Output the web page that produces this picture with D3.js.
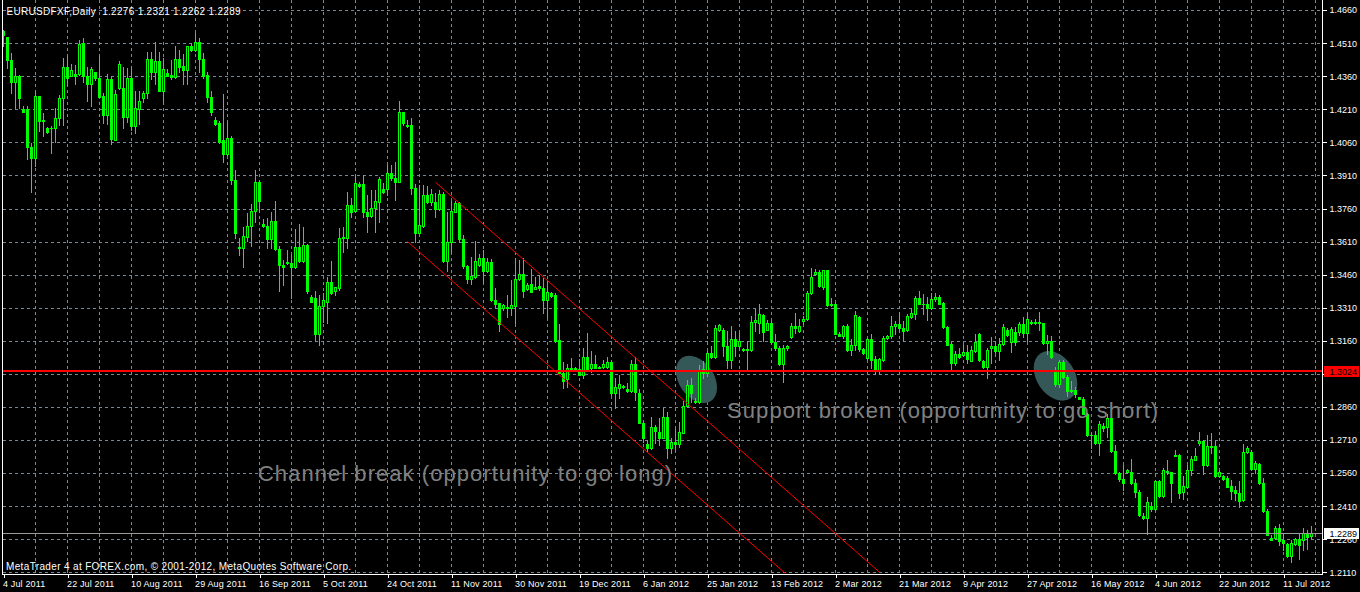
<!DOCTYPE html>
<html><head><meta charset="utf-8">
<script src="https://cdn.jsdelivr.net/npm/d3@7"></script>
<style>html,body{margin:0;padding:0;background:#000;overflow:hidden}svg{display:block}</style>
</head><body>
<svg id="chart" width="1360" height="592"></svg>
<script>
// ---------------- DATA ----------------
const symbolTitle = "EURUSDFXF,Daily";
const lastQuote = [1.2276, 1.2321, 1.2262, 1.2289]; // O H L C of last bar
const copyright = "MetaTrader 4 at FOREX.com, \u00A9 2001-2012, MetaQuotes Software Corp.";

const openP = [
1.4566,1.4536,1.4434,1.4333,1.4363,1.4212,1.4211,1.4038,1.3988,1.4271,
1.4161,1.4124,1.4124,1.4124,1.4170,1.4261,1.4404,1.4363,1.4371,1.4371,
1.4510,1.4359,1.4324,1.4378,1.4351,1.4271,1.4182,1.4348,1.4072,1.4306,
1.4306,1.4173,1.4351,1.4134,1.4211,1.4261,1.4283,1.4439,1.4377,1.4430,
1.4295,1.4374,1.4366,1.4356,1.4439,1.4406,1.4388,1.4496,1.4478,1.4515,
1.4439,1.4366,1.4268,1.4162,1.4147,1.4072,1.4006,1.4079,1.3890,1.3586,
1.3580,1.3633,1.3681,1.3749,1.3881,1.3690,1.3680,1.3621,1.3704,1.3577,
1.3505,1.3511,1.3512,1.3494,1.3586,1.3520,1.3595,1.3359,1.3353,1.3190,
1.3316,1.3338,1.3427,1.3384,1.3398,1.3625,1.3628,1.3776,1.3750,1.3870,
1.3870,1.3746,1.3728,1.3764,1.3788,1.3849,1.3847,1.3920,1.3897,1.3882,
1.4196,1.4139,1.4139,1.3855,1.3651,1.3681,1.3821,1.3788,1.3788,1.3756,
1.3824,1.3522,1.3607,1.3746,1.3784,1.3620,1.3501,1.3439,1.3451,1.3504,
1.3534,1.3477,1.3516,1.3345,1.3330,1.3307,1.3315,1.3310,1.3318,1.3439,
1.3461,1.3395,1.3416,1.3395,1.3409,1.3401,1.3345,1.3375,1.3368,1.3164,
1.3016,1.2987,1.3031,1.3038,1.3032,1.3005,1.3085,1.3035,1.3053,1.3038,
1.3041,1.3043,1.3065,1.2922,1.2947,1.2955,1.2941,1.2932,1.3053,1.2925,
1.2789,1.2692,1.2675,1.2768,1.2748,1.2718,1.2816,1.2675,1.2700,1.2690,
1.2743,1.2863,1.2958,1.2888,1.2882,1.3031,1.3013,1.3105,1.3085,1.3207,
1.3207,1.3135,1.3074,1.3169,1.3135,1.3123,1.3117,1.3117,1.3247,1.3242,
1.3275,1.3211,1.3242,1.3155,1.3128,1.3054,1.3128,1.3176,1.3227,1.3204,
1.3250,1.3257,1.3375,1.3463,1.3471,1.3405,1.3481,1.3323,1.3329,1.3193,
1.3181,1.3227,1.3120,1.3140,1.3269,1.3123,1.3082,1.3170,1.3077,1.3028,
1.3074,1.3173,1.3181,1.3227,1.3237,1.3219,1.3207,1.3269,1.3283,1.3356,
1.3329,1.3329,1.3311,1.3349,1.3359,1.3333,1.3222,1.3146,1.3059,1.3102,
1.3097,1.3109,1.3070,1.3112,1.3192,1.3067,1.3041,1.3127,1.3136,1.3116,
1.3144,1.3211,1.3154,1.3200,1.3200,1.3234,1.3196,1.3246,1.3243,1.3246,
1.3243,1.3150,1.3159,1.3017,1.2964,1.3063,1.2994,1.2933,1.2938,1.2903,
1.2898,1.2830,1.2735,1.2735,1.2697,1.2773,1.2769,1.2811,1.2659,1.2560,
1.2532,1.2563,1.2564,1.2517,1.2476,1.2366,1.2358,1.2412,1.2395,1.2525,
1.2458,1.2570,1.2564,1.2639,1.2644,1.2476,1.2496,1.2572,1.2621,1.2697,
1.2705,1.2595,1.2682,1.2682,1.2545,1.2545,1.2537,1.2502,1.2484,1.2468,
1.2438,1.2654,1.2656,1.2578,1.2602,1.2514,1.2389,1.2267,1.2267,1.2313,
1.2258,1.2240,1.2182,1.2240,1.2262,1.2258,1.2290,1.2276];

const highP = [
1.4570,1.4536,1.4465,1.4397,1.4366,1.4226,1.4226,1.4056,1.4291,1.4271,
1.4192,1.4132,1.4135,1.4215,1.4276,1.4442,1.4450,1.4415,1.4409,1.4525,
1.4533,1.4404,1.4401,1.4381,1.4450,1.4286,1.4371,1.4359,1.4298,1.4430,
1.4401,1.4397,1.4404,1.4291,1.4291,1.4291,1.4472,1.4469,1.4515,1.4472,
1.4442,1.4394,1.4434,1.4499,1.4480,1.4460,1.4499,1.4510,1.4555,1.4533,
1.4465,1.4377,1.4291,1.4173,1.4158,1.4280,1.4152,1.4089,1.3935,1.3625,
1.3678,1.3739,1.3780,1.3935,1.3883,1.3713,1.3716,1.3746,1.3792,1.3592,
1.3527,1.3571,1.3550,1.3668,1.3689,1.3678,1.3598,1.3368,1.3384,1.3368,
1.3376,1.3449,1.3523,1.3406,1.3673,1.3678,1.3837,1.3806,1.3912,1.3879,
1.3912,1.3821,1.3844,1.3844,1.3905,1.3874,1.3958,1.3958,1.3973,1.4248,
1.4199,1.4162,1.4169,1.3870,1.3867,1.3867,1.3864,1.3849,1.3829,1.3844,
1.3837,1.3746,1.3794,1.3794,1.3791,1.3640,1.3504,1.3539,1.3613,1.3552,
1.3572,1.3534,1.3530,1.3401,1.3330,1.3325,1.3368,1.3436,1.3534,1.3527,
1.3534,1.3421,1.3486,1.3451,1.3459,1.3446,1.3436,1.3383,1.3375,1.3235,
1.3065,1.3053,1.3081,1.3043,1.3078,1.3129,1.3194,1.3114,1.3096,1.3045,
1.3073,1.3088,1.3068,1.2993,1.3005,1.2960,1.2967,1.3073,1.3085,1.2941,
1.2796,1.2710,1.2816,1.2778,1.2808,1.2854,1.2838,1.2720,1.2760,1.2790,
1.2887,1.2980,1.2990,1.2899,1.3051,1.3067,1.3112,1.3135,1.3231,1.3234,
1.3216,1.3204,1.3227,1.3204,1.3196,1.3128,1.3158,1.3272,1.3303,1.3326,
1.3280,1.3253,1.3250,1.3189,1.3135,1.3143,1.3143,1.3242,1.3288,1.3257,
1.3272,1.3384,1.3491,1.3486,1.3481,1.3483,1.3481,1.3356,1.3333,1.3199,
1.3231,1.3234,1.3166,1.3295,1.3272,1.3128,1.3173,1.3192,1.3092,1.3082,
1.3181,1.3186,1.3272,1.3250,1.3292,1.3250,1.3280,1.3308,1.3364,1.3387,
1.3372,1.3359,1.3375,1.3379,1.3369,1.3338,1.3227,1.3155,1.3112,1.3128,
1.3143,1.3140,1.3135,1.3189,1.3196,1.3074,1.3128,1.3177,1.3154,1.3173,
1.3238,1.3219,1.3223,1.3223,1.3246,1.3269,1.3284,1.3254,1.3261,1.3289,
1.3243,1.3185,1.3182,1.3040,1.3071,1.3071,1.3005,1.2979,1.2949,1.2906,
1.2907,1.2834,1.2743,1.2750,1.2796,1.2785,1.2827,1.2819,1.2689,1.2563,
1.2598,1.2578,1.2624,1.2534,1.2484,1.2377,1.2453,1.2430,1.2529,1.2529,
1.2583,1.2621,1.2567,1.2666,1.2648,1.2545,1.2598,1.2636,1.2674,1.2746,
1.2712,1.2731,1.2740,1.2705,1.2575,1.2552,1.2545,1.2529,1.2502,1.2522,
1.2694,1.2682,1.2663,1.2613,1.2605,1.2537,1.2395,1.2278,1.2319,1.2331,
1.2285,1.2243,1.2256,1.2267,1.2285,1.2313,1.2301,1.2321];

const lowP = [
1.4495,1.4397,1.4283,1.4218,1.4215,1.4197,1.3984,1.3834,1.3951,1.4112,
1.4087,1.4102,1.4011,1.4064,1.4140,1.4140,1.4321,1.4359,1.4324,1.4366,
1.4336,1.4248,1.4227,1.4344,1.4264,1.4147,1.4143,1.4052,1.4072,1.4303,
1.4127,1.4152,1.4117,1.4102,1.4144,1.4245,1.4261,1.4348,1.4324,1.4291,
1.4248,1.4359,1.4348,1.4351,1.4381,1.4327,1.4327,1.4475,1.4475,1.4381,
1.4351,1.4242,1.4185,1.4140,1.4056,1.3969,1.4003,1.3870,1.3625,1.3550,
1.3497,1.3613,1.3588,1.3701,1.3746,1.3678,1.3583,1.3580,1.3573,1.3384,
1.3414,1.3508,1.3353,1.3492,1.3517,1.3517,1.3379,1.3335,1.3160,1.3142,
1.3247,1.3240,1.3371,1.3368,1.3390,1.3564,1.3580,1.3723,1.3746,1.3859,
1.3723,1.3652,1.3723,1.3655,1.3700,1.3829,1.3821,1.3889,1.3799,1.3879,
1.4139,1.4131,1.3824,1.3610,1.3648,1.3675,1.3784,1.3776,1.3723,1.3753,
1.3519,1.3477,1.3564,1.3743,1.3610,1.3489,1.3424,1.3416,1.3443,1.3501,
1.3428,1.3471,1.3341,1.3315,1.3205,1.3300,1.3270,1.3277,1.3239,1.3436,
1.3360,1.3390,1.3380,1.3394,1.3390,1.3285,1.3270,1.3360,1.3156,1.3013,
1.2944,1.2952,1.3028,1.3028,1.3005,1.2993,1.3028,1.3020,1.3035,1.3036,
1.3035,1.3038,1.2914,1.2854,1.2902,1.2947,1.2929,1.2929,1.2892,1.2786,
1.2703,1.2660,1.2669,1.2695,1.2687,1.2718,1.2628,1.2650,1.2670,1.2680,
1.2740,1.2860,1.2884,1.2876,1.2876,1.2990,1.3000,1.3082,1.3082,1.3204,
1.3089,1.3036,1.3036,1.3089,1.3128,1.3112,1.3028,1.3112,1.3204,1.3196,
1.3158,1.3207,1.3150,1.3120,1.3051,1.2972,1.3120,1.3173,1.3196,1.3201,
1.3237,1.3253,1.3372,1.3460,1.3402,1.3394,1.3318,1.3318,1.3189,1.3181,
1.3173,1.3115,1.3097,1.3120,1.3112,1.3100,1.3079,1.3036,1.3009,1.3009,
1.3067,1.3170,1.3173,1.3189,1.3204,1.3158,1.3204,1.3265,1.3257,1.3326,
1.3280,1.3253,1.3303,1.3341,1.3326,1.3219,1.3140,1.3028,1.3051,1.3082,
1.3089,1.3059,1.3067,1.3109,1.3070,1.3036,1.2990,1.3060,1.3106,1.3071,
1.3139,1.3182,1.3109,1.3139,1.3185,1.3177,1.3158,1.3238,1.3238,1.3208,
1.3147,1.3101,1.3081,1.2956,1.2949,1.2990,1.2910,1.2929,1.2907,1.2895,
1.2827,1.2727,1.2674,1.2694,1.2644,1.2750,1.2724,1.2654,1.2555,1.2522,
1.2484,1.2560,1.2511,1.2453,1.2365,1.2354,1.2285,1.2389,1.2392,1.2453,
1.2453,1.2557,1.2430,1.2636,1.2445,1.2441,1.2491,1.2552,1.2618,1.2689,
1.2557,1.2590,1.2651,1.2541,1.2541,1.2529,1.2496,1.2441,1.2438,1.2404,
1.2433,1.2651,1.2575,1.2560,1.2511,1.2384,1.2278,1.2256,1.2262,1.2232,
1.2209,1.2179,1.2156,1.2236,1.2171,1.2212,1.2217,1.2262];

const closeP = [
1.4545,1.4434,1.4333,1.4359,1.4261,1.4200,1.4038,1.3988,1.4271,1.4159,
1.4155,1.4105,1.4127,1.4170,1.4261,1.4404,1.4354,1.4388,1.4363,1.4505,
1.4359,1.4324,1.4392,1.4351,1.4268,1.4182,1.4348,1.4075,1.4280,1.4415,
1.4173,1.4351,1.4134,1.4215,1.4248,1.4283,1.4439,1.4377,1.4430,1.4291,
1.4394,1.4362,1.4356,1.4439,1.4404,1.4388,1.4495,1.4478,1.4515,1.4437,
1.4359,1.4264,1.4200,1.4144,1.4061,1.4006,1.4079,1.3890,1.3648,1.3580,
1.3636,1.3681,1.3749,1.3881,1.3796,1.3680,1.3621,1.3704,1.3577,1.3502,
1.3495,1.3517,1.3494,1.3586,1.3520,1.3595,1.3384,1.3338,1.3190,1.3316,
1.3346,1.3427,1.3376,1.3402,1.3625,1.3629,1.3776,1.3746,1.3874,1.3864,
1.3743,1.3728,1.3764,1.3794,1.3894,1.3837,1.3920,1.3897,1.3882,1.4196,
1.4146,1.4136,1.3855,1.3648,1.3685,1.3821,1.3788,1.3824,1.3756,1.3824,
1.3522,1.3607,1.3749,1.3784,1.3620,1.3501,1.3439,1.3454,1.3522,1.3534,
1.3477,1.3519,1.3345,1.3325,1.3235,1.3322,1.3310,1.3322,1.3439,1.3461,
1.3387,1.3413,1.3383,1.3406,1.3398,1.3345,1.3383,1.3365,1.3159,1.3016,
1.2979,1.3035,1.3038,1.3032,1.3005,1.3085,1.3032,1.3053,1.3038,1.3043,
1.3053,1.3065,1.2922,1.2949,1.2963,1.2952,1.2932,1.3053,1.2926,1.2789,
1.2718,1.2675,1.2771,1.2751,1.2718,1.2816,1.2675,1.2700,1.2690,1.2745,
1.2863,1.2958,1.2925,1.2882,1.3028,1.3013,1.3105,1.3085,1.3219,1.3230,
1.3135,1.3074,1.3170,1.3135,1.3158,1.3117,1.3123,1.3247,1.3253,1.3280,
1.3199,1.3242,1.3155,1.3128,1.3054,1.3128,1.3138,1.3227,1.3216,1.3227,
1.3257,1.3375,1.3448,1.3471,1.3410,1.3481,1.3323,1.3329,1.3193,1.3184,
1.3227,1.3120,1.3143,1.3275,1.3123,1.3105,1.3170,1.3074,1.3028,1.3077,
1.3173,1.3181,1.3227,1.3237,1.3219,1.3204,1.3272,1.3288,1.3356,1.3329,
1.3326,1.3311,1.3349,1.3359,1.3329,1.3222,1.3143,1.3059,1.3100,1.3085,
1.3109,1.3079,1.3117,1.3155,1.3074,1.3041,1.3120,1.3136,1.3116,1.3144,
1.3223,1.3185,1.3215,1.3154,1.3238,1.3196,1.3257,1.3243,1.3246,1.3243,
1.3150,1.3159,1.3086,1.2964,1.3063,1.2994,1.2933,1.2938,1.2918,1.2898,
1.2830,1.2732,1.2731,1.2697,1.2781,1.2766,1.2811,1.2659,1.2560,1.2532,
1.2514,1.2575,1.2517,1.2476,1.2372,1.2358,1.2427,1.2395,1.2525,1.2458,
1.2575,1.2563,1.2514,1.2644,1.2471,1.2502,1.2575,1.2625,1.2639,1.2705,
1.2595,1.2682,1.2679,1.2545,1.2564,1.2535,1.2499,1.2480,1.2468,1.2435,
1.2656,1.2674,1.2578,1.2605,1.2514,1.2389,1.2281,1.2258,1.2313,1.2252,
1.2243,1.2182,1.2244,1.2262,1.2236,1.2290,1.2270,1.2289];

const priceTicks = [1.4660,1.4510,1.4360,1.4210,1.4060,1.3910,1.3760,1.3610,1.3460,
                    1.3310,1.3160,1.3010,1.2860,1.2710,1.2560,1.2410,1.2260,1.2110];
const dateTickBars = [0,16,32,48,64,80,96,112,128,144,160,176,192,208,224,240,256,272,288,304,320];
const dateTickLabels = ["4 Jul 2011","22 Jul 2011","10 Aug 2011","29 Aug 2011","16 Sep 2011",
  "5 Oct 2011","24 Oct 2011","11 Nov 2011","30 Nov 2011","19 Dec 2011","6 Jan 2012",
  "25 Jan 2012","13 Feb 2012","2 Mar 2012","21 Mar 2012","9 Apr 2012","27 Apr 2012",
  "16 May 2012","4 Jun 2012","22 Jun 2012","11 Jul 2012"];

const supportLevel = 1.3024;
const bidPrice = 1.2289;

// channel lines (bar index, price) anchors
const channelStartBar   = [108, 101];
const channelStartPrice = [1.3879, 1.3610];
const channelEndBar     = [219.1, 195.4];
const channelEndPrice   = [1.2109, 1.2106];

// highlighted zones (bar index, price of centre)
const zoneBar   = [173.25, 263];
const zonePrice = [1.2985, 1.3001];

// annotations (bar index of left edge, price of baseline)
const noteTexts = ["Support broken (opportunity to go short)", "Channel break (opportunity to go long)"];
const noteBar   = [180.9, 63.6];
const notePrice = [1.2810, 1.2524];

// ---------------- DRAW ----------------
const W = 1360, H = 592;
const PL = 2.5, PR = 1322.5, PB = 574.5;
const LIME = "#00ff00", GRID = "#778899";
const FONT = "'Liberation Sans', Arial, sans-serif";

const svg = d3.select("#chart");
svg.append("rect").attr("width", W).attr("height", H).attr("fill", "#000");

const x = d3.scaleLinear().domain([0, 327]).range([3.5, 1311.5]);
const y = d3.scaleLinear().domain([1.2110, 1.4660]).range([572.3, 10.1]);
const py = p => Math.round(y(p)) + 0.5;

svg.append("defs").append("clipPath").attr("id", "plotClip")
  .append("rect").attr("x", 3).attr("y", 0).attr("width", PR - 3.5).attr("height", PB);

// grid
const grid = svg.append("g").attr("shape-rendering", "crispEdges")
  .attr("stroke", GRID).attr("stroke-dasharray", "3,3");
grid.selectAll("line.h").data(priceTicks).join("line").attr("class", "h")
  .attr("x1", 3).attr("x2", PR).attr("y1", d => py(d)).attr("y2", d => py(d));
grid.selectAll("line.v").data(d3.range(8, 329, 8)).join("line").attr("class", "v")
  .attr("x1", d => x(d)).attr("x2", d => x(d)).attr("y1", 0).attr("y2", PB);

const plot = svg.append("g").attr("clip-path", "url(#plotClip)");

// zones
plot.selectAll("ellipse").data(zoneBar).join("ellipse")
  .attr("transform", (d, i) => `translate(${x(d)},${y(zonePrice[i])}) rotate(-34)`)
  .attr("rx", (d, i) => i === 0 ? 17.5 : 19).attr("ry", (d, i) => i === 0 ? 26 : 27)
  .attr("fill", "#345858");

// candles
const bars = openP.map((o, i) => ({ i, o, h: highP[i], l: lowP[i], c: closeP[i] }));
const cg = plot.append("g").attr("shape-rendering", "crispEdges");
cg.selectAll("line.wick").data(bars).join("line").attr("class", "wick")
  .attr("x1", d => x(d.i)).attr("x2", d => x(d.i))
  .attr("y1", d => Math.round(y(d.h))).attr("y2", d => Math.round(y(d.l)) + 1)
  .attr("stroke", LIME);
cg.selectAll("rect.body").data(bars).join("rect").attr("class", "body")
  .each(function (d) {
    const r = d3.select(this);
    const yo = Math.round(y(d.o)), yc = Math.round(y(d.c));
    if (d.c > d.o && yo - yc >= 2) { // bull: hollow
      r.attr("x", x(d.i) - 1).attr("width", 2)
       .attr("y", yc + 0.5).attr("height", yo - yc)
       .attr("fill", "#000").attr("stroke", LIME);
    } else {
      const top = Math.min(yo, yc), bot = Math.max(yo, yc);
      r.attr("x", x(d.i) - 1.5).attr("width", 3)
       .attr("y", top).attr("height", Math.max(1, bot - top + 1))
       .attr("fill", LIME);
    }
  });

// horizontal levels
plot.append("line").attr("x1", 3).attr("x2", PR)
  .attr("y1", py(bidPrice)).attr("y2", py(bidPrice))
  .attr("stroke", "#9a9a9a").attr("shape-rendering", "crispEdges");
plot.append("line").attr("x1", 3).attr("x2", PR)
  .attr("y1", Math.round(y(supportLevel))).attr("y2", Math.round(y(supportLevel)))
  .attr("stroke", "#ff0000").attr("stroke-width", 2).attr("shape-rendering", "crispEdges");

// channel lines
plot.selectAll("line.chan").data(channelStartBar).join("line").attr("class", "chan")
  .attr("x1", d => x(d)).attr("y1", (d, i) => y(channelStartPrice[i]))
  .attr("x2", (d, i) => x(channelEndBar[i])).attr("y2", (d, i) => y(channelEndPrice[i]))
  .attr("stroke", "#ff0000").attr("stroke-width", 1);

// frame
const frame = svg.append("g").attr("stroke", "#fff").attr("shape-rendering", "crispEdges");
frame.append("line").attr("x1", PL).attr("x2", PL).attr("y1", 0).attr("y2", PB);
frame.append("line").attr("x1", PR).attr("x2", PR).attr("y1", 0).attr("y2", PB);
frame.append("line").attr("x1", PL).attr("x2", PR).attr("y1", PB).attr("y2", PB);

// axes
const yAxis = d3.axisRight(y).tickValues(priceTicks).tickSize(4).tickPadding(3)
  .tickFormat(d3.format(".4f"));
const gy = svg.append("g").attr("transform", `translate(${PR},0)`).call(yAxis);
gy.select(".domain").remove();
gy.selectAll(".tick line").attr("stroke", "#fff").attr("shape-rendering", "crispEdges");
gy.selectAll(".tick text").attr("fill", "#fff").attr("font-family", FONT).attr("font-size", 9);

const xAxis = d3.axisBottom(x).tickValues(dateTickBars).tickSize(4).tickPadding(3)
  .tickFormat((d, i) => dateTickLabels[i]);
const gx = svg.append("g").attr("transform", `translate(0,${PB - 0.5})`).call(xAxis);
gx.select(".domain").remove();
gx.selectAll(".tick line").attr("stroke", "#fff").attr("shape-rendering", "crispEdges");
gx.selectAll(".tick text").attr("fill", "#fff").attr("font-family", FONT).attr("font-size", 9)
  .attr("letter-spacing", 0.15).attr("text-anchor", "start").attr("x", -1);

// price boxes
function priceBox(p, bg, fg) {
  const cy = Math.round(y(p));
  svg.append("rect").attr("x", 1324).attr("y", cy - 5).attr("width", 35).attr("height", 11)
    .attr("fill", bg).attr("shape-rendering", "crispEdges");
  svg.append("text").attr("x", 1329.5).attr("y", cy + 0.5).attr("dy", "0.34em")
    .attr("fill", fg).attr("font-family", FONT).attr("font-size", 9)
    .text(d3.format(".4f")(p));
}
priceBox(supportLevel, "#ff0000", "#000");
priceBox(bidPrice, "#ffffff", "#000");

// texts
svg.append("text").attr("x", 6.5).attr("y", 14.5).attr("fill", "#fff")
  .attr("font-family", FONT).attr("font-size", 10).attr("letter-spacing", 0.3)
  .attr("xml:space", "preserve")
  .text(symbolTitle + "  " + lastQuote.map(d3.format(".4f")).join(" "));
svg.append("text").attr("x", 6).attr("y", 569.5).attr("fill", "#fff")
  .attr("font-family", FONT).attr("font-size", 10).attr("letter-spacing", 0.35)
  .text(copyright);

svg.selectAll("text.note").data(noteTexts).join("text").attr("class", "note")
  .attr("x", (d, i) => x(noteBar[i])).attr("y", (d, i) => y(notePrice[i]))
  .attr("fill", "#808080").attr("font-family", FONT).attr("font-size", 22)
  .attr("letter-spacing", 1.05)
  .text(d => d);
</script>
</body></html>
